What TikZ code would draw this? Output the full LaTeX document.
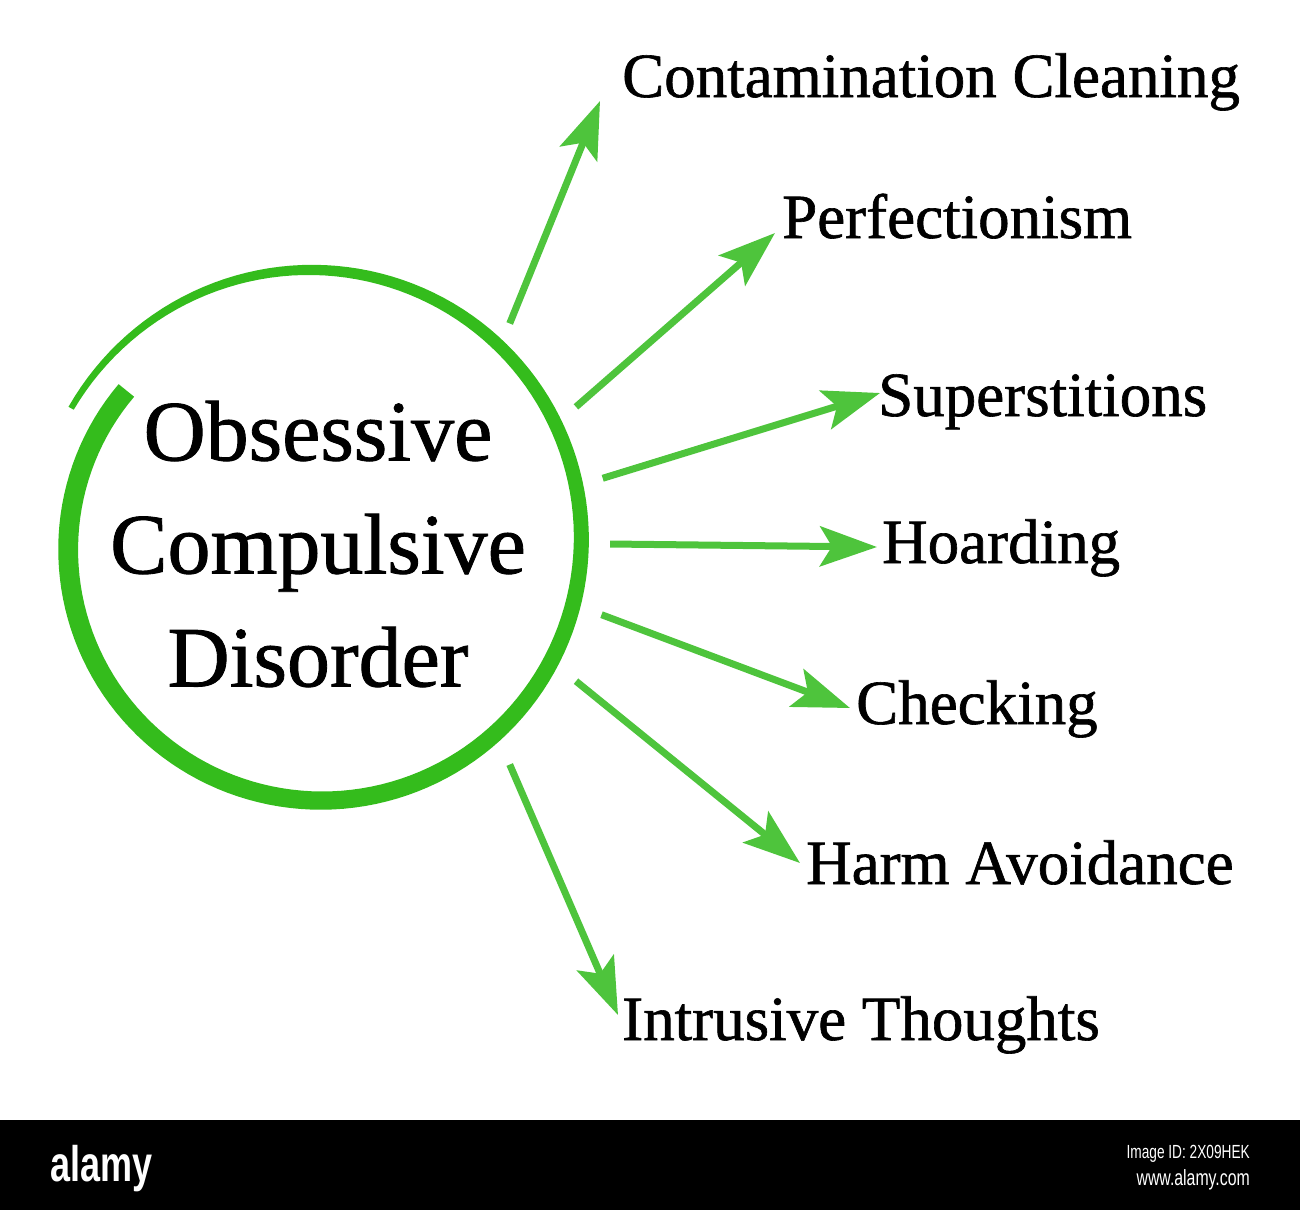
\documentclass[tikz,border=0pt]{standalone}
\usepackage{fontspec}
\setmainfont{Liberation Serif}[FakeBold=1]
\newfontfamily\wmfont[FakeStretch=0.72]{Liberation Sans}
\usepackage{tikz}
\usetikzlibrary{arrows.meta}
\definecolor{ringgreen}{RGB}{52,188,28}
\definecolor{arrgreen}{RGB}{78,196,60}

\begin{document}
\begin{tikzpicture}[x=1pt,y=1pt,
  lbl/.style={anchor=base west, inner sep=0pt, font=\fontsize{63}{70}\selectfont},
  arr/.style={draw=arrgreen, line width=7pt, -{Stealth[length=57pt,width=40pt,inset=12pt]}},
  declare function={rr(\t)=244+36*(\t-141)/370; ww(\t)=20-14*((\t-141)/370)^2;}]
\useasboundingbox (0,0) rectangle (1300,-1210);

% hand drawn ring
\fill[ringgreen] plot[domain=141:511, samples=160, variable=\t]
    ({316+(rr(\t)+ww(\t)/2)*cos(\t)}, {-544+(rr(\t)+ww(\t)/2)*sin(\t)})
  -- plot[domain=511:141, samples=160, variable=\t]
    ({316+(rr(\t)-ww(\t)/2)*cos(\t)}, {-544+(rr(\t)-ww(\t)/2)*sin(\t)}) -- cycle;

\node[circle, minimum size=584pt, inner sep=0pt, align=center,
      font=\fontsize{86}{113}\selectfont] (ocd) at (318,-544)
      {Obsessive\\Compulsive\\Disorder};

\node[lbl] (l1) at (622,-97) {Contamination Cleaning};
\node[lbl] (l2) at (782,-238) {Perfectionism};
\node[lbl] (l3) at (878,-416) {Superstitions};
\node[lbl] (l4) at (882,-563) {Hoarding};
\node[lbl] (l5) at (856,-724) {Checking};
\node[lbl] (l6) at (806,-884) {Harm Avoidance};
\node[lbl] (l7) at (622,-1040) {Intrusive Thoughts};

\coordinate (t1) at (600,-101);
\coordinate (t2) at (775,-233);
\coordinate (t3) at (880,-393);
\coordinate (t4) at (877,-547);
\coordinate (t5) at (850,-708);
\coordinate (t6) at (800,-863);
\coordinate (t7) at (618,-1015);

\path[arr] (ocd.49.6) -- (t1);
\path[arr] (ocd.28.4) -- (t2);
\path[arr] (ocd.13) -- (t3);
\path[arr] (ocd.0.2) -- (t4);
\path[arr] (ocd.-14.7) -- (t5);
\path[arr] (ocd.-28.1) -- (t6);
\path[arr] (ocd.-49.9) -- (t7);

% stock banner
\fill[black] (0,-1120) rectangle (1300,-1210);
\node[white, anchor=base west, inner sep=0pt, font=\wmfont\bfseries\fontsize{50}{54}\selectfont] (wm) at (50,-1181) {alamy};
\node[white, anchor=base east, inner sep=0pt, font=\wmfont\fontsize{19}{22}\selectfont] (wmid) at (1250,-1158) {Image ID: 2X09HEK};
\node[white, anchor=base east, inner sep=0pt, font=\wmfont\fontsize{22}{26}\selectfont] (wmurl) at (1250,-1185) {www.alamy.com};
\end{tikzpicture}
\end{document}
